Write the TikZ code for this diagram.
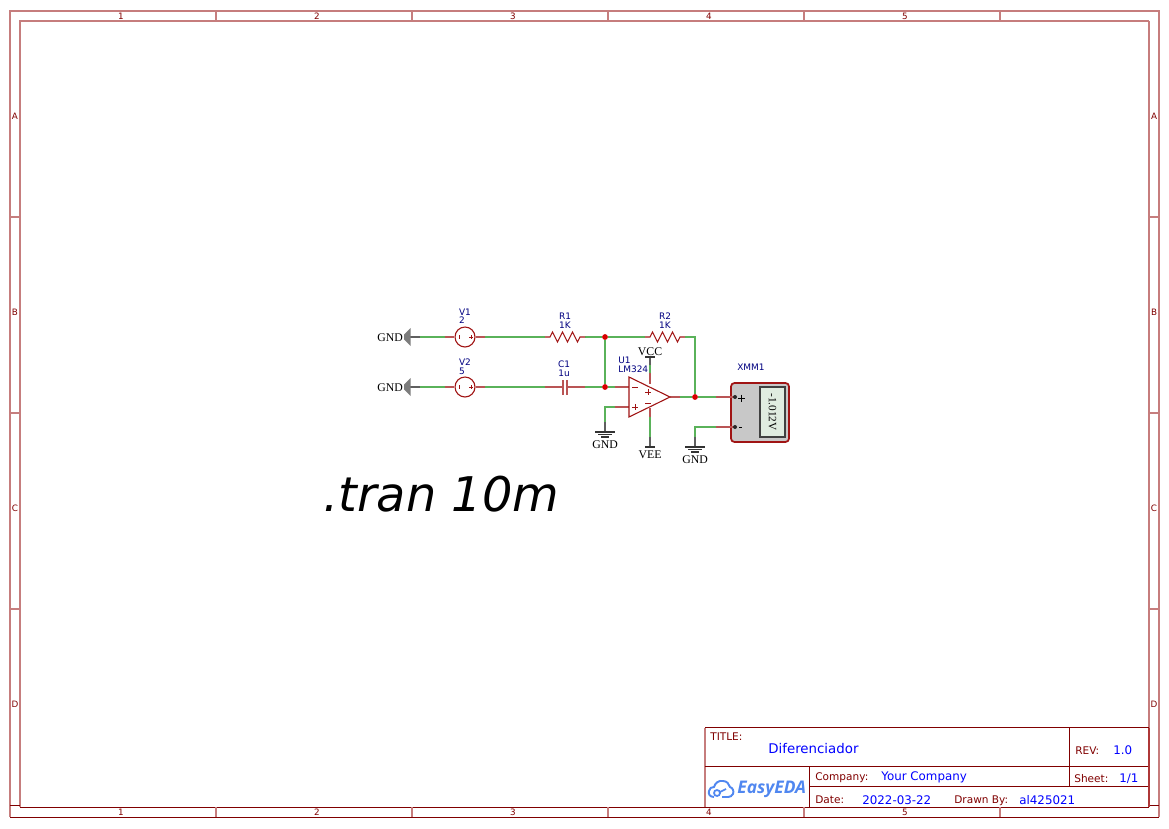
\documentclass[tikz,border=0pt]{standalone}
\usepackage{fontspec}
\setmainfont{DejaVu Sans}
\newfontfamily\serifgnd{Liberation Serif}
\newfontfamily\logofont{Open Sans}
\usetikzlibrary{calc, positioning}
\definecolor{framered}{RGB}{128,0,0}
\definecolor{framepale}{RGB}{198,125,125}
\definecolor{leadred}{RGB}{185,85,85}
\definecolor{symred}{RGB}{160,20,20}
\definecolor{wiregreen}{RGB}{90,178,90}
\definecolor{stubgray}{RGB}{95,95,95}
\definecolor{wedgegray}{RGB}{125,125,125}
\definecolor{juncred}{RGB}{214,0,0}
\definecolor{partblue}{RGB}{0,0,128}
\definecolor{valblue}{RGB}{0,0,255}
\definecolor{logoblue}{RGB}{80,135,240}
\definecolor{meterfill}{RGB}{200,200,200}
\definecolor{screenfill}{RGB}{224,236,224}
\tikzset{
    px/.style={line width=0.62pt},
    frameline/.style={line width=1.05pt, framepale},
    tbline/.style={px, framered},
    borderlbl/.style={framered, inner sep=0pt, font=\fontsize{5}{6}\selectfont},
    tblabel/.style={framered, anchor=west, inner sep=0pt, font=\fontsize{6}{7}\selectfont},
    tbvalue/.style={valblue, anchor=west, inner sep=0pt, font=\fontsize{6.75}{8}\selectfont},
    partlbl/.style={partblue, inner sep=0pt, font=\fontsize{5.1}{6}\selectfont},
    netlbl/.style={black, inner sep=0pt, font=\serifgnd\fontsize{6.7}{8}\selectfont},
    wire/.style={line width=0.9pt, wiregreen},
    lead/.style={line width=0.9pt, leadred},
    symline/.style={px, symred},
    markline/.style={line width=0.45pt, symred},
    stub/.style={line width=0.9pt, stubgray},
    bar/.style={px, black!80},
    junc/.style={circle, fill=juncred, inner sep=0pt, minimum size=0.115cm},
    srcbody/.style={circle, draw=symred, px, inner sep=0pt, minimum size=0.4cm},
}
\begin{document}
\begin{tikzpicture}[x=0.02cm, y=-0.02cm]
    \useasboundingbox (0,0) rectangle (1169,828);

    % Sheet frame
    \draw[frameline] (10,817) -- (10,11) -- (1159,11) -- (1159,817);
    \draw[frameline] (20,807) -- (20,21) -- (1149,21);
    \draw[frameline] (1149,21) -- (1149,728);
    \draw[tbline] (10,817.5) -- (1159,817.5);
    \draw[tbline] (20,807.5) -- (1149,807.5);
    \draw[tbline] (10,805.5) -- (20,805.5);
    \draw[tbline] (1149,805.5) -- (1159,805.5);
    \draw[frameline] (216,11) -- (216,21) (412,11) -- (412,21) (608,11) -- (608,21) (804,11) -- (804,21) (1000,11) -- (1000,21);
    \draw[frameline] (216,807) -- (216,817) (412,807) -- (412,817) (608,807) -- (608,817) (804,807) -- (804,817) (1000,807) -- (1000,817);
    \draw[frameline] (10,217) -- (20,217) (10,413) -- (20,413) (10,609) -- (20,609);
    \draw[frameline] (1149,217) -- (1159,217) (1149,413) -- (1159,413) (1149,609) -- (1159,609);

    % Sheet zones
    \node[borderlbl] (top1) at (121,16) {1};
    \node[borderlbl] (top2) at (317,16) {2};
    \node[borderlbl] (top3) at (513,16) {3};
    \node[borderlbl] (top4) at (709,16) {4};
    \node[borderlbl] (top5) at (905,16) {5};
    \node[borderlbl] (bot1) at (121,812.5) {1};
    \node[borderlbl] (bot2) at (317,812.5) {2};
    \node[borderlbl] (bot3) at (513,812.5) {3};
    \node[borderlbl] (bot4) at (709,812.5) {4};
    \node[borderlbl] (bot5) at (905,812.5) {5};
    \node[borderlbl] (leftA) at (15,116) {A};
    \node[borderlbl] (leftB) at (15,312) {B};
    \node[borderlbl] (leftC) at (15,508) {C};
    \node[borderlbl] (leftD) at (15,704) {D};
    \node[borderlbl] (rightA) at (1154,116) {A};
    \node[borderlbl] (rightB) at (1154,312) {B};
    \node[borderlbl] (rightC) at (1154,508) {C};
    \node[borderlbl] (rightD) at (1154,704) {D};

    % Title block
    \draw[tbline] (705,727.5) -- (1149,727.5);
    \draw[frameline] (705,728) -- (705,807);
    \draw[tbline] (705,766.5) -- (1149,766.5);
    \draw[tbline] (809,786.5) -- (1149,786.5);
    \draw[tbline] (809.5,767) -- (809.5,807);
    \draw[tbline] (1069.5,728) -- (1069.5,787);
    \draw[line width=1pt, symred!85] (1149,728) -- (1149,807);
    \node[tblabel] (titleLbl) at (710,737) {TITLE:};
    \node[tbvalue, font=\fontsize{7.6}{9}\selectfont] (titleVal) at (768,749) {Diferenciador};
    \node[tblabel] (companyLbl) at (815,778) {Company:};
    \node[tbvalue] (companyVal) at (881,777.5) {Your Company};
    \node[tblabel] (dateLbl) at (815,800) {Date:};
    \node[tbvalue] (dateVal) at (862,800) {2022-03-22};
    \node[tblabel] (drawnLbl) at (954,800.5) {Drawn By:};
    \node[tbvalue] (drawnVal) at (1019,800) {al425021};
    \node[tblabel] (revLbl) at (1075,750.5) {REV:};
    \node[tbvalue] (revVal) at (1113,750.5) {1.0};
    \node[tblabel] (sheetLbl) at (1074,779) {Sheet:};
    \node[tbvalue] (sheetVal) at (1119,779) {1/1};

    % Logo
    \draw[logoblue, line width=1.1pt] (714,797) .. controls (710,797) and (708,794) .. (709,791) .. controls (709,788) and (712,787) .. (714,787) .. controls (715,783) and (719,780) .. (723,781) .. controls (727,781) and (729,784) .. (730,787) .. controls (733,788) and (734,791) .. (733,794) .. controls (732,796) and (730,797) .. (728,797) -- (722,797);
    \draw[logoblue, line width=1pt] (717,793) circle (3) (720,792) -- (726,789);
    \node[logoblue, anchor=west, inner sep=0pt, font=\logofont\bfseries\itshape\fontsize{9.9}{12}\selectfont] (logoText) at (737,789.5) {EasyEDA};

    % Free text
    \node[anchor=west, inner sep=0pt, font=\itshape\fontsize{27.2}{30}\selectfont] (tranCmd) at (323,494) {.tran 10m};

    % Junctions
    \node[junc] (jA) at (605,337) {};
    \node[junc] (jB) at (605,387) {};
    \node[junc] (jOut) at (695,397) {};

    % V1 branch
    \node[srcbody] (V1) at (465,337) {};
    \node[partlbl] (lblV1) at (465,312) {V1};
    \node[partlbl] (valV1) at (462,320) {2};
    \node[netlbl] (gndV1) at (390,337.5) {GND};
    \coordinate (gndV1pin) at (410,337);
    \coordinate (gndV1w) at (420,337);
    \coordinate (V1a) at (445,337);
    \coordinate (V1b) at (485,337);
    \coordinate (R1a) at (545,337);
    \coordinate (R1b) at (585,337);
    \draw[stub] (gndV1pin) -- (gndV1w);
    \draw[wire] (gndV1w) -- (V1a);
    \draw[lead] (V1a) -- (V1.west);
    \draw[lead] (V1.east) -- (V1b);
    \draw[wire] (V1b) -- (R1a);
    \draw[wire] (R1b) -- (jA);

    % V2 branch
    \node[srcbody] (V2) at (465,387) {};
    \node[partlbl] (lblV2) at (465,362) {V2};
    \node[partlbl] (valV2) at (462,371) {5};
    \node[netlbl] (gndV2) at (390,387.5) {GND};
    \coordinate (gndV2pin) at (410,387);
    \coordinate (gndV2w) at (420,387);
    \coordinate (V2a) at (445,387);
    \coordinate (V2b) at (485,387);
    \coordinate (C1a) at (545,387);
    \coordinate (C1b) at (585,387);
    \draw[stub] (gndV2pin) -- (gndV2w);
    \draw[wire] (gndV2w) -- (V2a);
    \draw[lead] (V2a) -- (V2.west);
    \draw[lead] (V2.east) -- (V2b);
    \draw[wire] (V2b) -- (C1a);
    \draw[wire] (C1b) -- (jB);

    % Source polarity marks
    \draw[markline] (459,335) -- (459,339) (459,385) -- (459,389);
    \draw[markline] (469,337) -- (473,337) (471,335) -- (471,339) (469,387) -- (473,387) (471,385) -- (471,389);

    % Side grounds
    \fill[wedgegray] (410.5,328) -- (404,334.5) -- (404,339.5) -- (410.5,346) -- cycle;
    \fill[wedgegray] (410.5,378) -- (404,384.5) -- (404,389.5) -- (410.5,396) -- cycle;

    % R1
    \node[partlbl] (lblR1) at (565,316) {R1};
    \node[partlbl] (valR1) at (565,325) {1K};
    \draw[symline] (R1a) -- ++(5,0) -- ++(2.5,-5) -- ++(5,10) -- ++(5,-10) -- ++(5,10) -- ++(5,-10) -- ++(5,10) -- ++(2.5,-5) -- (R1b);

    % C1
    \node[partlbl] (lblC1) at (564,364) {C1};
    \node[partlbl] (valC1) at (564,373) {1u};
    \coordinate (C1p) at (563,387);
    \coordinate (C1q) at (567,387);
    \draw[lead] (C1a) -- (C1p);
    \draw[lead] (C1q) -- (C1b);
    \draw[lead] (563,380) -- (563,395) (567,380) -- (567,395);

    % R2 and feedback
    \coordinate (R2a) at (645,337);
    \coordinate (R2b) at (685,337);
    \coordinate (fbCorner) at (695,337);
    \node[partlbl] (lblR2) at (665,316) {R2};
    \node[partlbl] (valR2) at (665,325) {1K};
    \draw[wire] (jA) -- (R2a);
    \draw[symline] (R2a) -- ++(5,0) -- ++(2.5,-5) -- ++(5,10) -- ++(5,-10) -- ++(5,10) -- ++(5,-10) -- ++(5,10) -- ++(2.5,-5) -- (R2b);
    \draw[wire] (R2b) -- (fbCorner) -- (jOut);
    \draw[wire] (jA) -- (jB);

    % Op amp
    \coordinate (inN) at (629,387);
    \coordinate (inP) at (629,407);
    \coordinate (inNw) at (615,387);
    \coordinate (inPw) at (615,407);
    \coordinate (outTip) at (670,397);
    \coordinate (outW) at (680,397);
    \node[partlbl, anchor=west] (lblU1) at (618,360) {U1};
    \node[partlbl, anchor=west] (valU1) at (618,369) {LM324};
    \draw[lead] (inNw) -- (inN);
    \draw[lead] (inPw) -- (inP);
    \draw[lead] (outTip) -- (outW);
    \draw[symline] (629,377) -- (outTip) -- (629,417) -- cycle;
    \draw[markline] (632,387) -- (638,387);
    \draw[markline] (632,407) -- (638,407) (635,404) -- (635,410);
    \draw[markline] (645,392) -- (651,392) (648,389) -- (648,395);
    \draw[markline] (645,403) -- (651,403);
    \draw[wire] (jB) -- (inNw);
    \draw[wire] (outW) -- (jOut);

    % VCC and VEE
    \node[netlbl] (vcc) at (650,352) {VCC};
    \node[netlbl] (vee) at (650,455) {VEE};
    \coordinate (vccBar) at (650,357);
    \coordinate (vccW) at (650,365);
    \coordinate (vccPin) at (650,384);
    \coordinate (vccLead) at (650,373);
    \coordinate (veeBar) at (650,447);
    \coordinate (veeW) at (650,437);
    \coordinate (veePin) at (650,417);
    \coordinate (veeIn) at (650,408);
    \draw[stub] (vccBar) -- (vccW);
    \draw[wire] (vccW) -- (vccLead);
    \draw[lead] (vccLead) -- (vccPin);
    \draw[bar] (645,357) -- (655,357);
    \draw[lead] (veeIn) -- (veePin);
    \draw[wire] (veePin) -- (veeW);
    \draw[stub] (veeW) -- (veeBar);
    \draw[bar] (645,447) -- (655,447);

    % Input ground
    \coordinate (gndUcorner) at (605,407);
    \coordinate (gndUw) at (605,422);
    \coordinate (gndUbar) at (605,432);
    \node[netlbl] (gndU) at (605,445) {GND};
    \draw[wire] (inPw) -- (gndUcorner) -- (gndUw);
    \draw[stub] (gndUw) -- (gndUbar);
    \draw[bar] (595,432) -- (615,432) (598,434.5) -- (612,434.5) (601,437) -- (609,437);

    % Multimeter
    \draw[fill=meterfill, draw=symred, line width=1pt, rounded corners=2pt] (731,383) rectangle (789,442);
    \draw[fill=screenfill, draw=black!75, line width=0.62pt] (760,387) rectangle (785,437);
    \node[rotate=-90, inner sep=0pt, font=\serifgnd\fontsize{6.4}{8}\selectfont] (reading) at (772.5,412) {-1.012V};
    \node[partlbl] (lblXMM) at (751,367) {XMM1};
    \coordinate (mPos) at (735,397);
    \coordinate (mNeg) at (735,427);
    \coordinate (mPosW) at (716,397);
    \coordinate (mNegW) at (716,427);
    \coordinate (gndMcorner) at (695,427);
    \coordinate (gndMw) at (695,437);
    \coordinate (gndMbar) at (695,447);
    \node[netlbl] (gndM) at (695,460) {GND};
    \draw[wire] (jOut) -- (mPosW);
    \draw[lead] (mPosW) -- (mPos);
    \draw[wire] (gndMw) -- (gndMcorner) -- (mNegW);
    \draw[lead] (mNegW) -- (mNeg);
    \draw[stub] (gndMw) -- (gndMbar);
    \draw[bar] (685,447) -- (705,447) (688,449.5) -- (702,449.5) (691,452) -- (699,452);
    \fill[black!85] (mPos) circle (2) (mNeg) circle (2);
    \draw[line width=0.45pt, black] (738,398) -- (745,398) (741,394.5) -- (741,402) (739,427) -- (742,427);
\end{tikzpicture}
\end{document}
